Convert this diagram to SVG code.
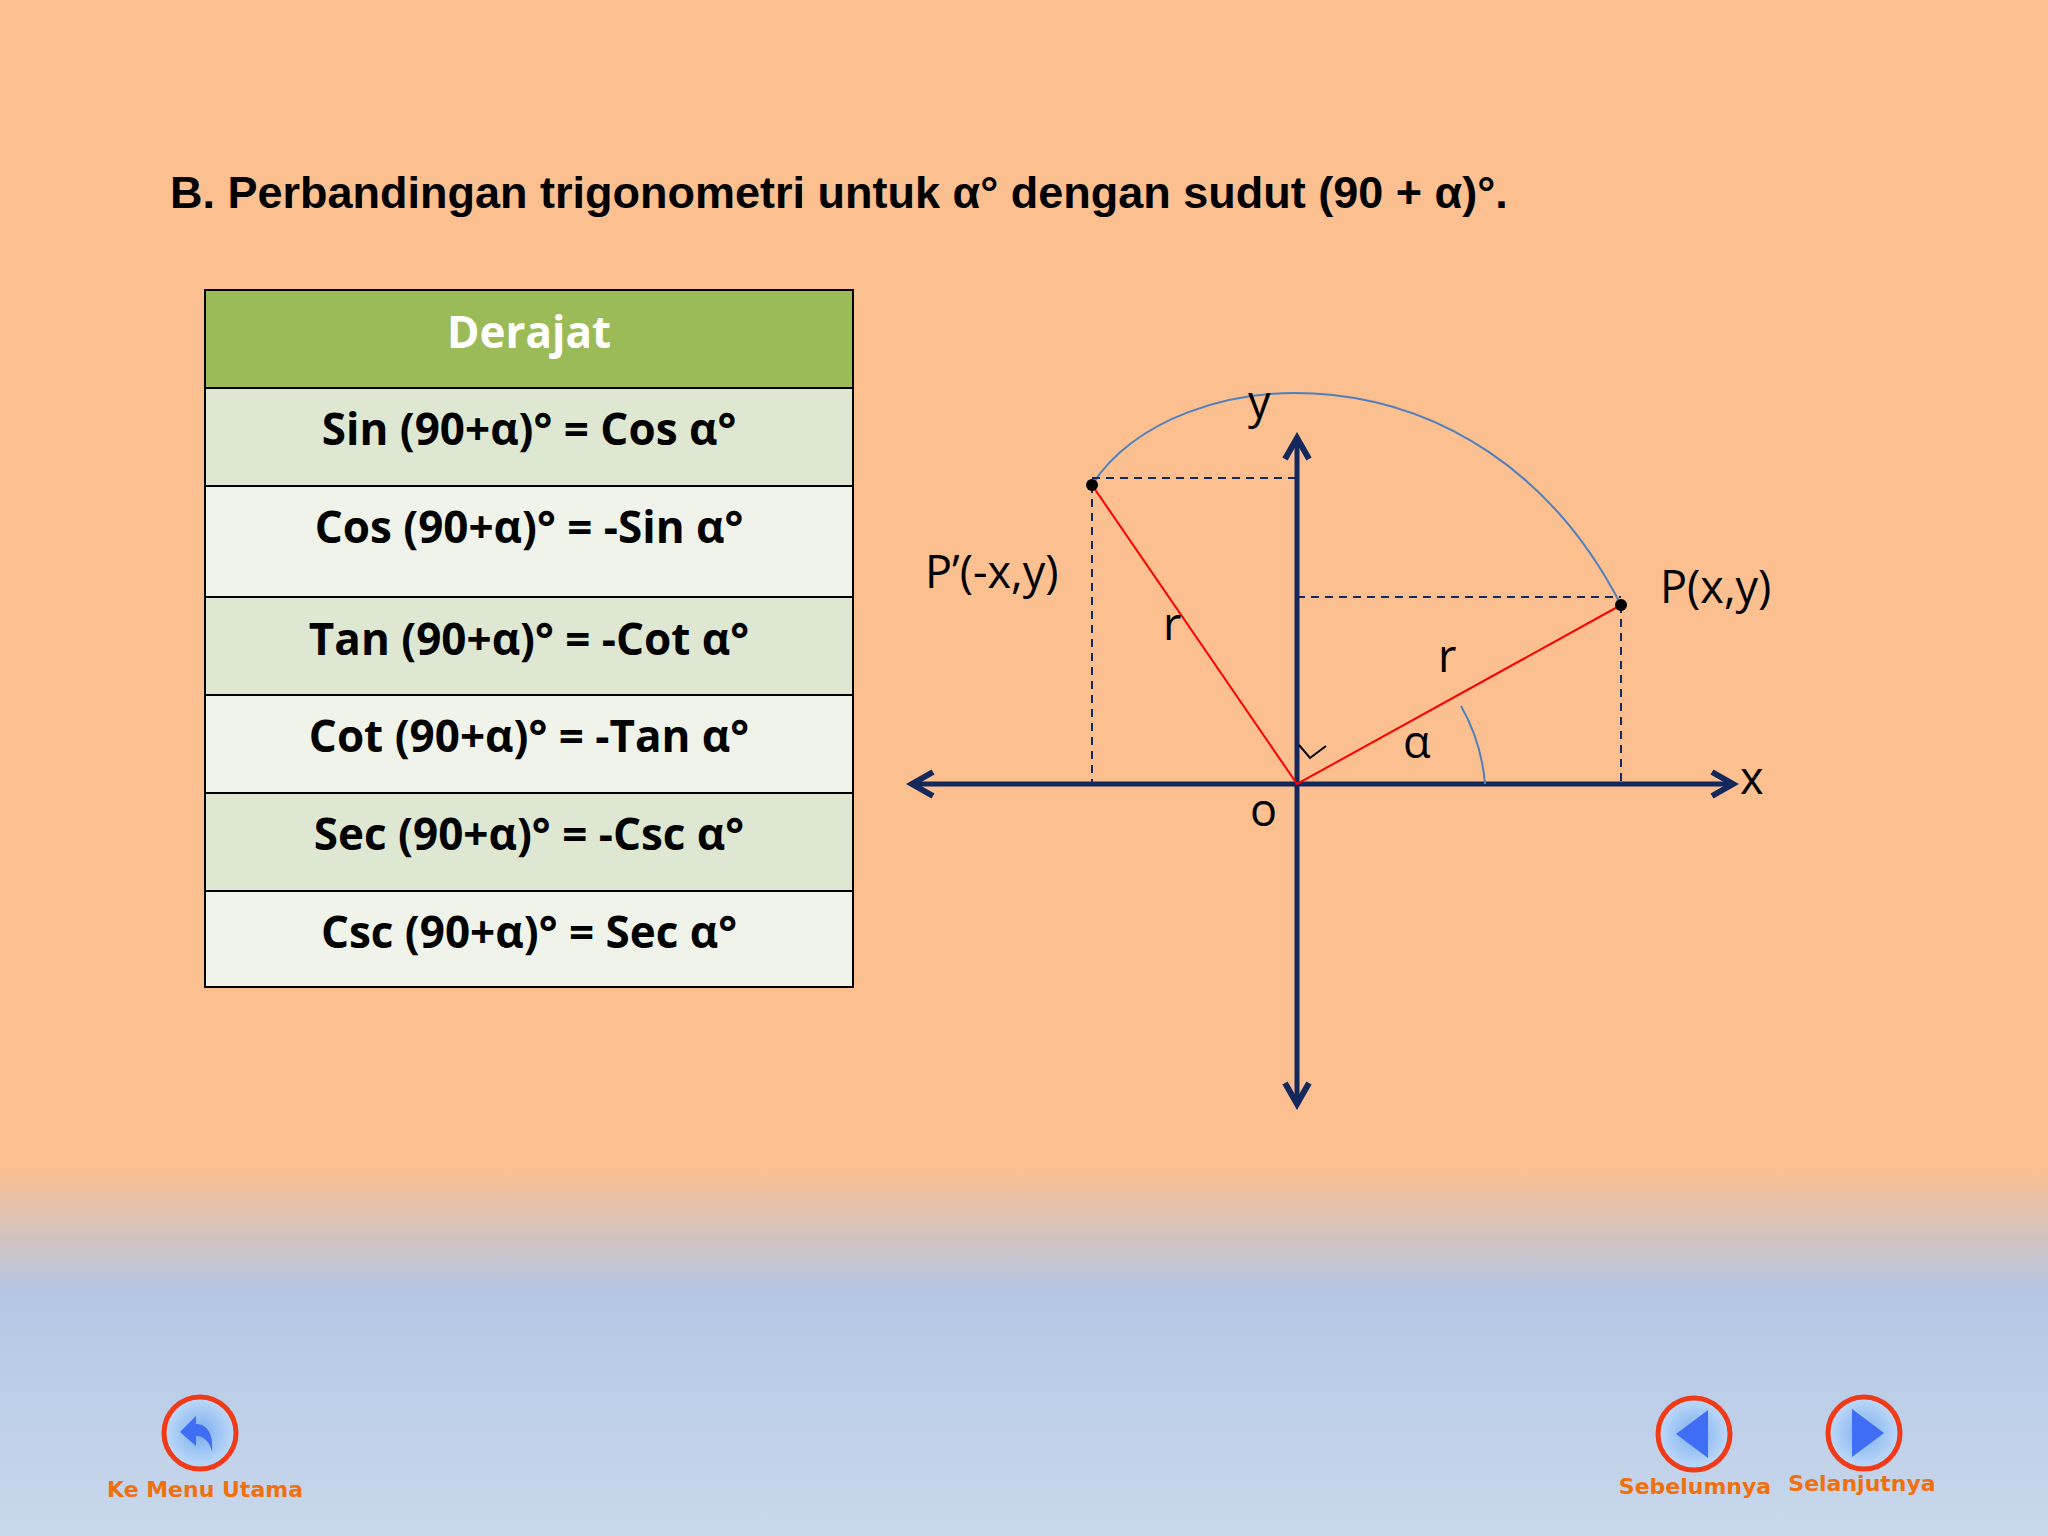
<svg xmlns="http://www.w3.org/2000/svg" width="2048" height="1536" viewBox="0 0 2048 1536">
<defs>
<linearGradient id="bg" x1="0" y1="0" x2="0" y2="1">
<stop offset="0" stop-color="#FBBF90"/><stop offset="0.76" stop-color="#FBBF90"/><stop offset="0.84" stop-color="#B4C6E4"/><stop offset="1" stop-color="#C8D8EC"/>
</linearGradient>
<radialGradient id="btn" cx="0.5" cy="0.5" r="0.6"><stop offset="0" stop-color="#7AAEF0"/><stop offset="1" stop-color="#CFE4FA"/></radialGradient>
<marker id="ah" viewBox="0 0 20 20" refX="16" refY="10" markerWidth="6" markerHeight="6" markerUnits="strokeWidth" orient="auto-start-reverse"><path d="M2,2 L16,10 L2,18" fill="none" stroke="#14285C" stroke-width="4"/></marker>
<style>
.cell{stroke:#000;stroke-width:2}
.t{font-family:"Open Sans","Liberation Sans",sans-serif;font-weight:bold;font-size:44px;text-anchor:middle;fill:#000}
.lab{font-family:"Open Sans","Liberation Sans",sans-serif;font-size:45px;fill:#000}
.ax{stroke:#14285C;stroke-width:5;fill:none}
.dash{stroke:#14285C;stroke-width:2;stroke-dasharray:8,6;fill:none}
.red{stroke:#FF0000;stroke-width:2;fill:none}
.bl{stroke:#4F81BD;stroke-width:2;fill:none}
.bt{font-family:"DejaVu Sans",sans-serif;font-weight:bold;font-size:22px;fill:#F07010;text-anchor:middle}
.ring{fill:url(#btn);stroke:#F03A18;stroke-width:5}
</style>
</defs>
<rect width="2048" height="1536" fill="url(#bg)"/>
<text x="170" y="208" font-family="Liberation Sans,Arial,sans-serif" font-weight="bold" font-size="45" fill="#000">B. Perbandingan trigonometri untuk α° dengan sudut (90 + α)°.</text>
<g id="table">
<rect class="cell" x="205" y="290" width="648" height="98" fill="#9BBB59"/>
<text class="t" x="529" y="348" style="fill:#fff">Derajat</text>
<rect class="cell" x="205" y="388" width="648" height="98" fill="#DEE7D1"/>
<text class="t" x="529" y="445">Sin (90+α)°  = Cos α°</text>
<rect class="cell" x="205" y="486" width="648" height="111" fill="#EFF3EA"/>
<text class="t" x="529" y="543">Cos (90+α)° = -Sin α°</text>
<rect class="cell" x="205" y="597" width="648" height="98" fill="#DEE7D1"/>
<text class="t" x="529" y="655">Tan (90+α)° = -Cot α°</text>
<rect class="cell" x="205" y="695" width="648" height="98" fill="#EFF3EA"/>
<text class="t" x="529" y="752">Cot (90+α)° = -Tan α°</text>
<rect class="cell" x="205" y="793" width="648" height="98" fill="#DEE7D1"/>
<text class="t" x="529" y="850">Sec (90+α)° = -Csc α°</text>
<rect class="cell" x="205" y="891" width="648" height="96" fill="#EFF3EA"/>
<text class="t" x="529" y="948">Csc (90+α)° = Sec α°</text>
</g>
<g id="connectors">
<path class="bl" d="M1092,485 C1170,360 1480,330 1621,605"/>
<path class="dash" d="M1092,478 L1297,478 M1092,485 L1092,784 M1297,597 L1621,597 M1621,605 L1621,784"/>
<line class="ax" x1="912" y1="784" x2="1733" y2="784" marker-start="url(#ah)" marker-end="url(#ah)"/>
<line class="ax" x1="1297" y1="1104" x2="1297" y2="438" marker-start="url(#ah)" marker-end="url(#ah)"/>
<path class="red" d="M1092,485 L1297,784 L1621,605"/>
<path class="bl" d="M1461,706 A188,188 0 0 1 1485,784"/>
<path d="M1299,745 L1310,758 L1326,746" fill="none" stroke="#000" stroke-width="2"/>
<circle cx="1092" cy="485" r="6" fill="#000"/>
<circle cx="1621" cy="605" r="6" fill="#000"/>
</g>
<g id="labels">
<text class="lab" x="1248" y="418">y</text>
<text class="lab" x="1740" y="794">x</text>
<text class="lab" x="1250" y="826">o</text>
<text class="lab" x="925" y="588">P’(-x,y)</text>
<text class="lab" x="1660" y="603">P(x,y)</text>
<text class="lab" x="1163" y="640">r</text>
<text class="lab" x="1438" y="672">r</text>
<text class="lab" x="1403" y="758">α</text>
</g>
<g id="btn-menu">
<circle class="ring" cx="200" cy="1433" r="36"/>
<path d="M212,1452 C214,1430 204,1424 196,1424 L196,1416 L180,1432 L196,1446 L196,1436 C204,1436 210,1442 212,1452 Z" fill="#3F6EF5"/>
<text class="bt" x="205" y="1497">Ke Menu Utama</text>
</g>
<g id="btn-prev">
<circle class="ring" cx="1694" cy="1434" r="36"/>
<path d="M1708,1410 L1708,1458 L1676,1434 Z" fill="#3F6EF5"/>
<text class="bt" x="1695" y="1494">Sebelumnya</text>
</g>
<g id="btn-next">
<circle class="ring" cx="1864" cy="1433" r="36"/>
<path d="M1852,1409 L1852,1457 L1884,1433 Z" fill="#3F6EF5"/>
<text class="bt" x="1862" y="1491">Selanjutnya</text>
</g>
</svg>
